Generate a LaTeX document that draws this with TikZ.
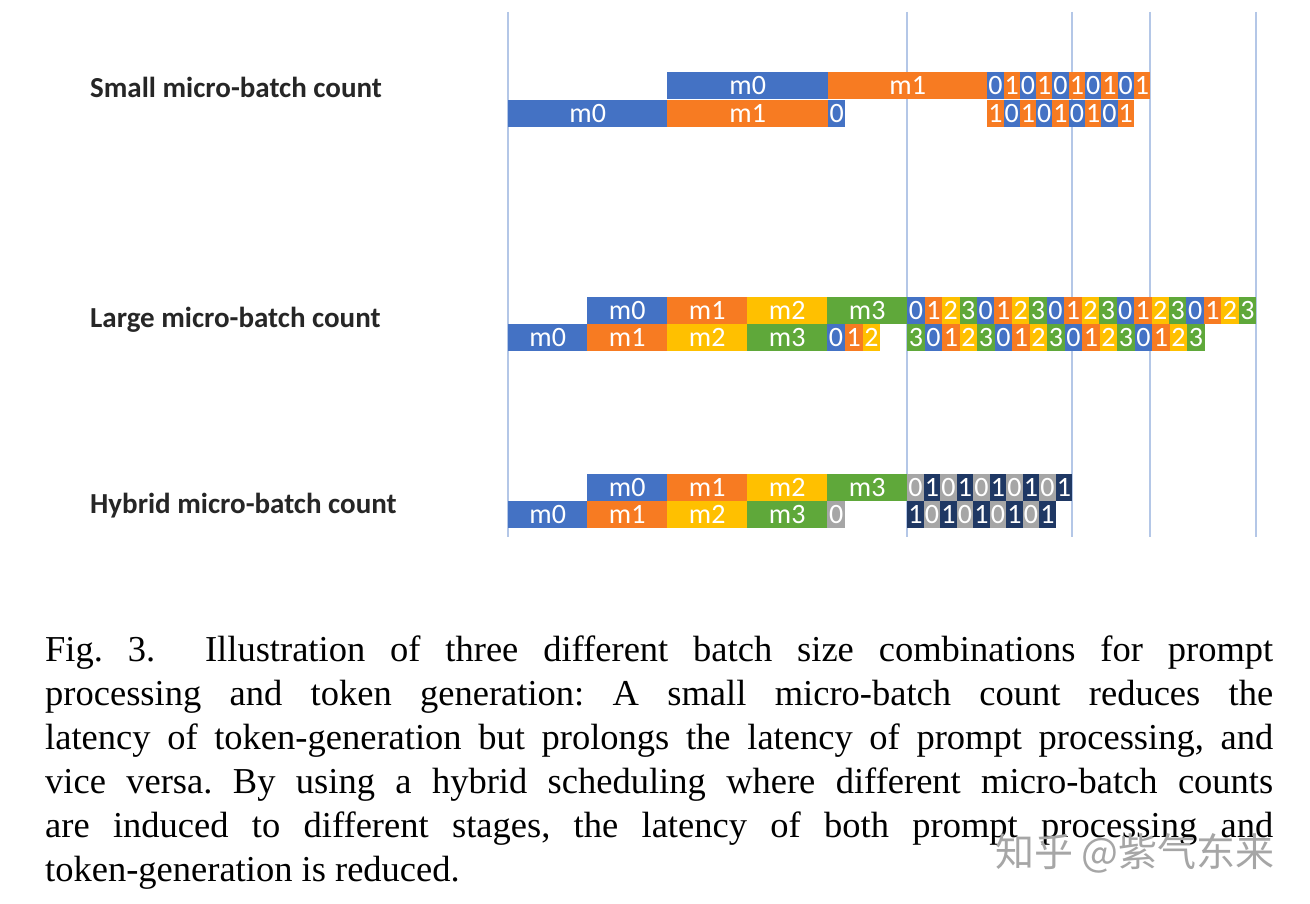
\documentclass[tikz,border=0pt]{standalone}
\usepackage{fontspec}
\setmainfont{Liberation Serif}
\newfontfamily\calib{Carlito}
\newfontfamily\cjk{Noto Sans CJK SC}
\definecolor{mblue}{HTML}{4472C4}
\definecolor{morange}{HTML}{F77B22}
\definecolor{myellow}{HTML}{FFC000}
\definecolor{mgreen}{HTML}{5FA83A}
\definecolor{vline}{HTML}{B4C7E7}
\colorlet{s0}{mblue}\colorlet{s1}{morange}
\colorlet{l0}{mblue}\colorlet{l1}{morange}\colorlet{l2}{myellow}\colorlet{l3}{mgreen}
\definecolor{h0}{HTML}{A6A6A6}\definecolor{h1}{HTML}{1F3864}
\tikzset{
 bar/.style={anchor=north west,inner sep=0,minimum height=27pt,text=white,font=\calib\fontsize{28}{28}\selectfont},
 tok/.style={anchor=north west,inner sep=0,minimum height=27pt,text=white,font=\calib\fontsize{28}{28}\selectfont},
 lbl/.style={anchor=west,inner sep=0,font=\calib\bfseries\fontsize{29}{29}\selectfont,text=black!85},
 grid/.style={draw=vline,line width=1.2pt}
}
\newcommand\tokrow[6]{%
 \foreach \d [count=\i from 0] in {#5}{%
  \pgfmathsetmacro\xx{#1+\i*#3}%
  \node[tok,fill=#4\d,minimum width=#3pt] (#6\i) at (\xx,#2) {\d};}}
\begin{document}
\begin{tikzpicture}[x=1pt,y=-1pt]
\useasboundingbox[fill=white] (0,0) rectangle (1310,904);
\foreach \x/\n in {508/a,907/b,1072/c,1150/d,1256/e}{
 \coordinate (g\n1) at (\x,12); \coordinate (g\n2) at (\x,537);
 \draw[grid] (g\n1) -- (g\n2);}
% labels
\node[lbl] (L1) at (90,87) {Small micro-batch count};
\node[lbl] (L2) at (90,320) {Large micro-batch count};
\node[lbl] (L3) at (90,506) {Hybrid micro-batch count};
% small
\node[bar,fill=mblue,minimum width=161pt] (s1) at (667,72) {m0};
\node[bar,fill=morange,minimum width=159pt] (s2) at (828,72) {m1};
\tokrow{987}{72}{16.3}{s}{0,1,0,1,0,1,0,1,0,1}{sa}
\node[bar,fill=mblue,minimum width=159pt] (s3) at (508,100) {m0};
\node[bar,fill=morange,minimum width=161pt] (s4) at (667,100) {m1};
\node[bar,fill=mblue,minimum width=17pt] (s5) at (828,100) {0};
\tokrow{987}{100}{16.3}{s}{1,0,1,0,1,0,1,0,1}{sb}
% large
\node[bar,fill=mblue,minimum width=80pt] (l1) at (587,297) {m0};
\node[bar,fill=morange,minimum width=80pt] (l2) at (667,297) {m1};
\node[bar,fill=myellow,minimum width=80pt] (l3) at (747,297) {m2};
\node[bar,fill=mgreen,minimum width=80pt] (l4) at (827,297) {m3};
\tokrow{907}{297}{17.45}{l}{0,1,2,3,0,1,2,3,0,1,2,3,0,1,2,3,0,1,2,3}{la}
\node[bar,fill=mblue,minimum width=79pt] (l5) at (508,324) {m0};
\node[bar,fill=morange,minimum width=80pt] (l6) at (587,324) {m1};
\node[bar,fill=myellow,minimum width=80pt] (l7) at (667,324) {m2};
\node[bar,fill=mgreen,minimum width=80pt] (l8) at (747,324) {m3};
\tokrow{827}{324}{17.7}{l}{0,1,2}{lb}
\tokrow{907}{324}{17.5}{l}{3,0,1,2,3,0,1,2,3,0,1,2,3,0,1,2,3}{lc}
% hybrid
\node[bar,fill=mblue,minimum width=80pt] (h1) at (587,474) {m0};
\node[bar,fill=morange,minimum width=80pt] (h2) at (667,474) {m1};
\node[bar,fill=myellow,minimum width=80pt] (h3) at (747,474) {m2};
\node[bar,fill=mgreen,minimum width=80pt] (h4) at (827,474) {m3};
\tokrow{907}{474}{16.5}{h}{0,1,0,1,0,1,0,1,0,1}{ha}
\node[bar,fill=mblue,minimum width=79pt] (h5) at (508,501) {m0};
\node[bar,fill=morange,minimum width=80pt] (h6) at (587,501) {m1};
\node[bar,fill=myellow,minimum width=80pt] (h7) at (667,501) {m2};
\node[bar,fill=mgreen,minimum width=80pt] (h8) at (747,501) {m3};
\tokrow{827}{501}{18}{h}{0}{hb}
\tokrow{907}{501}{16.5}{h}{1,0,1,0,1,0,1,0,1}{hc}
% caption
\node[anchor=north west,inner sep=0,text width=1228pt,align=justify,
 font=\fontsize{36.5}{44}\selectfont] (cap) at (45,636)
{\frenchspacing Fig. 3.\ \ Illustration of three different batch size combinations for prompt\linebreak
processing and token generation: A small micro-batch count reduces the\linebreak
latency of token-generation but prolongs the latency of prompt processing, and\linebreak
vice versa. By using a hybrid scheduling where different micro-batch counts\linebreak
are induced to different stages, the latency of both prompt processing and\linebreak
token-generation is reduced.};
\node[anchor=west,inner sep=0,text=black!35,font=\cjk\fontsize{39}{39}\selectfont] (wm) at (995,853) {知乎 @紫气东来};
\end{tikzpicture}
\end{document}
